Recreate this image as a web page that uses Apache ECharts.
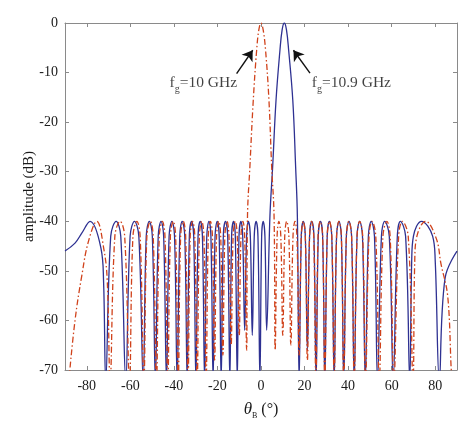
<!DOCTYPE html>
<html>
<head>
<meta charset="utf-8">
<script src="https://cdn.jsdelivr.net/npm/echarts@6/dist/echarts.min.js"></script>
<style>
html, body { margin: 0; padding: 0; background: #fff; }
#chart { width: 474px; height: 432px; }
</style>
</head>
<body>
<div id="chart"></div>
<script>
var xTicks = [-80, -60, -40, -20, 0, 20, 40, 60, 80];

// f_g = 10.9 GHz (solid blue), one lobe per line: null, shoulder, peak, shoulder
var blueAngle = [
  -90, -85.4, -82.3, -78.5, -73.5, -72.3,
  -71.3, -69.0, -66.5, -64.4,
  -62.1, -60.1, -58.1, -56.1,
  -54.1, -52.7, -51.3, -49.9,
  -48.5, -47.2, -45.9, -44.7,
  -43.4, -42.2, -40.9, -39.7,
  -38.5, -37.3, -36.2, -35.0,
  -33.9, -32.9, -31.9, -30.9,
  -29.9, -28.9, -27.9, -26.9,
  -25.9, -24.9, -23.9, -23.0,
  -22.0, -21.1, -20.1, -19.2,
  -18.3, -17.3, -16.3, -15.3,
  -14.3, -13.5, -12.6, -11.8,
  -10.9, -10.1, -9.2, -8.4,
  -7.5, -6.6, -5.8, -4.9,
  -4.0, -3.1, -2.25, -1.4,
  -0.5, 0.3, 1.0, 1.8,
  2.6, 4.1, 5.35, 6.9, 8.7, 9.7, 10.7, 11.7, 12.7, 14.6, 15.9, 16.7,
  17.5, 18.5, 19.4, 20.35,
  21.3, 22.3, 23.3, 24.3,
  25.3, 26.3, 27.3, 28.3,
  29.3, 30.4, 31.4, 32.5,
  33.6, 34.7, 35.8, 36.9,
  38.0, 39.2, 40.4, 41.6,
  42.8, 44.1, 45.3, 46.6,
  47.9, 49.3, 50.6, 52.1,
  53.5, 55.3, 56.8, 58.9,
  60.7, 62.6, 64.0, 66.4,
  68.3, 69.2, 70.0, 73.7, 78.8, 80.0,
  81.9, 84.5, 90
];
var blueLevel = [
  -46, -44.4, -42.4, -40, -45.4, -52,
  -72, -43, -40, -43,
  -72, -43, -40, -43,
  -72, -43, -40, -43,
  -72, -43, -40, -43,
  -72, -43, -40, -43,
  -72, -43, -40, -43,
  -72, -43, -40, -43,
  -72, -43, -40, -43,
  -72, -43, -40, -43,
  -72, -43, -40, -43,
  -72, -43, -40, -43,
  -72, -43, -40, -43,
  -72, -43, -40, -43,
  -62, -43, -40, -43,
  -63, -43, -40, -43,
  -72, -43, -40, -43,
  -62, -39, -29, -15.6, -5.5, -1.4, 0, -1.4, -5.5, -15.6, -29, -39,
  -72, -43, -40, -43,
  -66, -43, -40, -43,
  -72, -43, -40, -43,
  -72, -43, -40, -43,
  -72, -43, -40, -43,
  -72, -43, -40, -43,
  -72, -43, -40, -43,
  -72, -43, -40, -43,
  -72, -43, -40, -43,
  -72, -43, -40, -43,
  -72, -48, -43, -40, -43, -48,
  -72, -51.5, -46
];

// f_g = 10 GHz (red dash-dot)
var redAngle = [
  -88.2, -85.4, -82.3, -79.2, -75.4, -72.2, -70.6,
  -69.3, -67.1, -64.7, -62.6,
  -60.4, -58.8, -57.0, -55.5,
  -53.8, -52.4, -50.8, -49.5,
  -48.0, -46.7, -45.3, -44.1,
  -42.8, -41.6, -40.3, -39.2,
  -38.0, -36.9, -35.7, -34.6,
  -33.5, -32.5, -31.4, -30.4,
  -29.3, -28.3, -27.2, -26.2,
  -25.2, -24.2, -23.2, -22.3,
  -21.3, -20.4, -19.4, -18.5,
  -17.5, -16.6, -15.6, -14.7,
  -13.7, -12.8, -11.8, -10.9,
  -10.0, -9.2, -8.3, -7.5,
  -6.6, -6.2, -5.1, -3.55, -2.0, -1.0, 0, 1.0, 2.1, 3.65, 4.9, 6.0,
  6.5, 7.4, 8.2, 9.1,
  10.0, 10.9, 11.8, 12.8,
  13.7, 14.7, 15.6, 16.5,
  17.5, 18.5, 19.4, 20.35,
  21.3, 22.3, 23.2, 24.2,
  25.2, 26.2, 27.2, 28.3,
  29.3, 30.4, 31.4, 32.5,
  33.6, 34.7, 35.8, 36.9,
  38.0, 39.2, 40.3, 41.6,
  42.8, 44.1, 45.3, 46.7,
  48.0, 49.6, 51.0, 52.7,
  54.3, 56.0, 57.8, 59.3,
  61.0, 63.2, 64.9, 67.6,
  69.8, 70.6, 71.6, 75.6, 80.5, 82.6, 85.7,
  88.3, 90
];
var redLevel = [
  -72, -60, -51, -44, -40, -45.5, -52,
  -72, -43, -40, -43,
  -72, -43, -40, -43,
  -72, -43, -40, -43,
  -72, -43, -40, -43,
  -72, -43, -40, -43,
  -72, -43, -40, -43,
  -72, -43, -40, -43,
  -72, -43, -40, -43,
  -72, -43, -40, -43,
  -68, -43, -40, -43,
  -67, -43, -40, -43,
  -65, -43, -40, -43,
  -63, -43, -40, -43,
  -66, -39, -29, -15.6, -5.5, -1.4, 0, -1.4, -5.5, -15.6, -29, -39,
  -66, -43, -40, -43,
  -63, -43, -40, -43,
  -65, -43, -40, -43,
  -67, -43, -40, -43,
  -68, -43, -40, -43,
  -72, -43, -40, -43,
  -72, -43, -40, -43,
  -72, -43, -40, -43,
  -72, -43, -40, -43,
  -72, -43, -40, -43,
  -72, -43, -40, -43,
  -72, -43, -40, -43,
  -72, -43, -40, -43,
  -72, -48, -43, -40, -43.5, -48.5, -55,
  -72, -72
];

// annotations: arrow tail -> tip, and label anchors (data coords)
var arrowLeft = [[-11.2, -10.2], [-3.8, -5.5]];
var arrowRight = [[22.5, -10.1], [14.9, -5.5]];
var labelAnchors = [[-26.5, -12.0], [41.5, -12.0]];
var labelTexts = ['{f|f}{s|g}{t|=10 GHz}', '{f|f}{s|g}{t|=10.9 GHz}'];

function pairs(xs, ys) {
  var out = [];
  for (var i = 0; i < xs.length; i++) out.push([xs[i], ys[i]]);
  return out;
}

var serif = '"Liberation Serif", "DejaVu Serif", serif';
var frame = { show: true, onZero: false, lineStyle: { color: '#8a8a8a', width: 1 } };
var tick = { show: true, inside: true, length: 4, lineStyle: { color: '#8a8a8a' } };

var chart = echarts.init(document.getElementById('chart'));
var option = {
  animation: false,
  backgroundColor: '#fff',
  grid: { left: 65, right: 17, top: 23, bottom: 62 },
  xAxis: [
    {
      type: 'value', min: -90, max: 90, position: 'bottom',
      axisLine: frame,
      axisTick: Object.assign({ customValues: xTicks }, tick),
      axisLabel: { customValues: xTicks, fontFamily: serif, fontSize: 14, color: '#1a1a1a', margin: 9 },
      splitLine: { show: false },
      name: '{th|θ}{b|B}{p| (°)}',
      nameLocation: 'middle',
      nameGap: 30,
      nameMoveOverlap: false,
      nameTextStyle: {
        rich: {
          th: { fontFamily: serif, fontStyle: 'italic', fontSize: 17, color: '#1a1a1a', lineHeight: 20 },
          b: { fontFamily: serif, fontSize: 8, color: '#1a1a1a', verticalAlign: 'bottom', lineHeight: 20 },
          p: { fontFamily: serif, fontSize: 16, color: '#1a1a1a', lineHeight: 20 }
        }
      }
    },
    {
      type: 'value', min: -90, max: 90, position: 'top',
      axisLine: frame,
      axisTick: Object.assign({ customValues: xTicks }, tick),
      axisLabel: { show: false },
      splitLine: { show: false }
    }
  ],
  yAxis: [
    {
      type: 'value', min: -70, max: 0, interval: 10, position: 'left',
      axisLine: frame, axisTick: tick,
      axisLabel: { fontFamily: serif, fontSize: 14, color: '#1a1a1a', margin: 7 },
      splitLine: { show: false },
      name: 'amplitude (dB)',
      nameLocation: 'middle',
      nameGap: 28,
      nameMoveOverlap: false,
      nameTextStyle: { fontFamily: serif, fontSize: 15, color: '#1a1a1a' }
    },
    {
      type: 'value', min: -70, max: 0, interval: 10, position: 'right',
      axisLine: frame, axisTick: tick,
      axisLabel: { show: false },
      splitLine: { show: false }
    }
  ],
  series: [
    {
      name: 'fg=10.9 GHz',
      type: 'line',
      data: pairs(blueAngle, blueLevel),
      showSymbol: false,
      smooth: 0.4,
      clip: true,
      lineStyle: { color: '#2e3192', width: 1.3 },
      z: 2
    },
    {
      name: 'fg=10 GHz',
      type: 'line',
      data: pairs(redAngle, redLevel),
      showSymbol: false,
      smooth: 0.4,
      clip: true,
      lineStyle: { color: '#d0421b', width: 1.3, type: [6, 2.5, 1.5, 2.5] },
      z: 3,
      markLine: {
        silent: true,
        symbol: ['none', 'arrow'],
        symbolSize: 10,
        lineStyle: { color: '#111', type: 'solid', width: 1.4 },
        label: { show: false },
        data: [
          [{ coord: arrowLeft[0] }, { coord: arrowLeft[1] }],
          [{ coord: arrowRight[0] }, { coord: arrowRight[1] }]
        ]
      }
    },
    {
      type: 'scatter',
      data: labelAnchors,
      symbolSize: 0,
      silent: true,
      z: 5,
      label: {
        show: true,
        position: 'inside',
        formatter: function (p) { return labelTexts[p.dataIndex]; },
        rich: {
          f: { fontFamily: serif, fontSize: 15.5, color: '#111', lineHeight: 18 },
          s: { fontFamily: serif, fontSize: 10, color: '#111', verticalAlign: 'bottom', lineHeight: 24 },
          t: { fontFamily: serif, fontSize: 15.5, color: '#111', lineHeight: 18 }
        }
      }
    }
  ]
};
chart.setOption(option);
</script>
</body>
</html>
